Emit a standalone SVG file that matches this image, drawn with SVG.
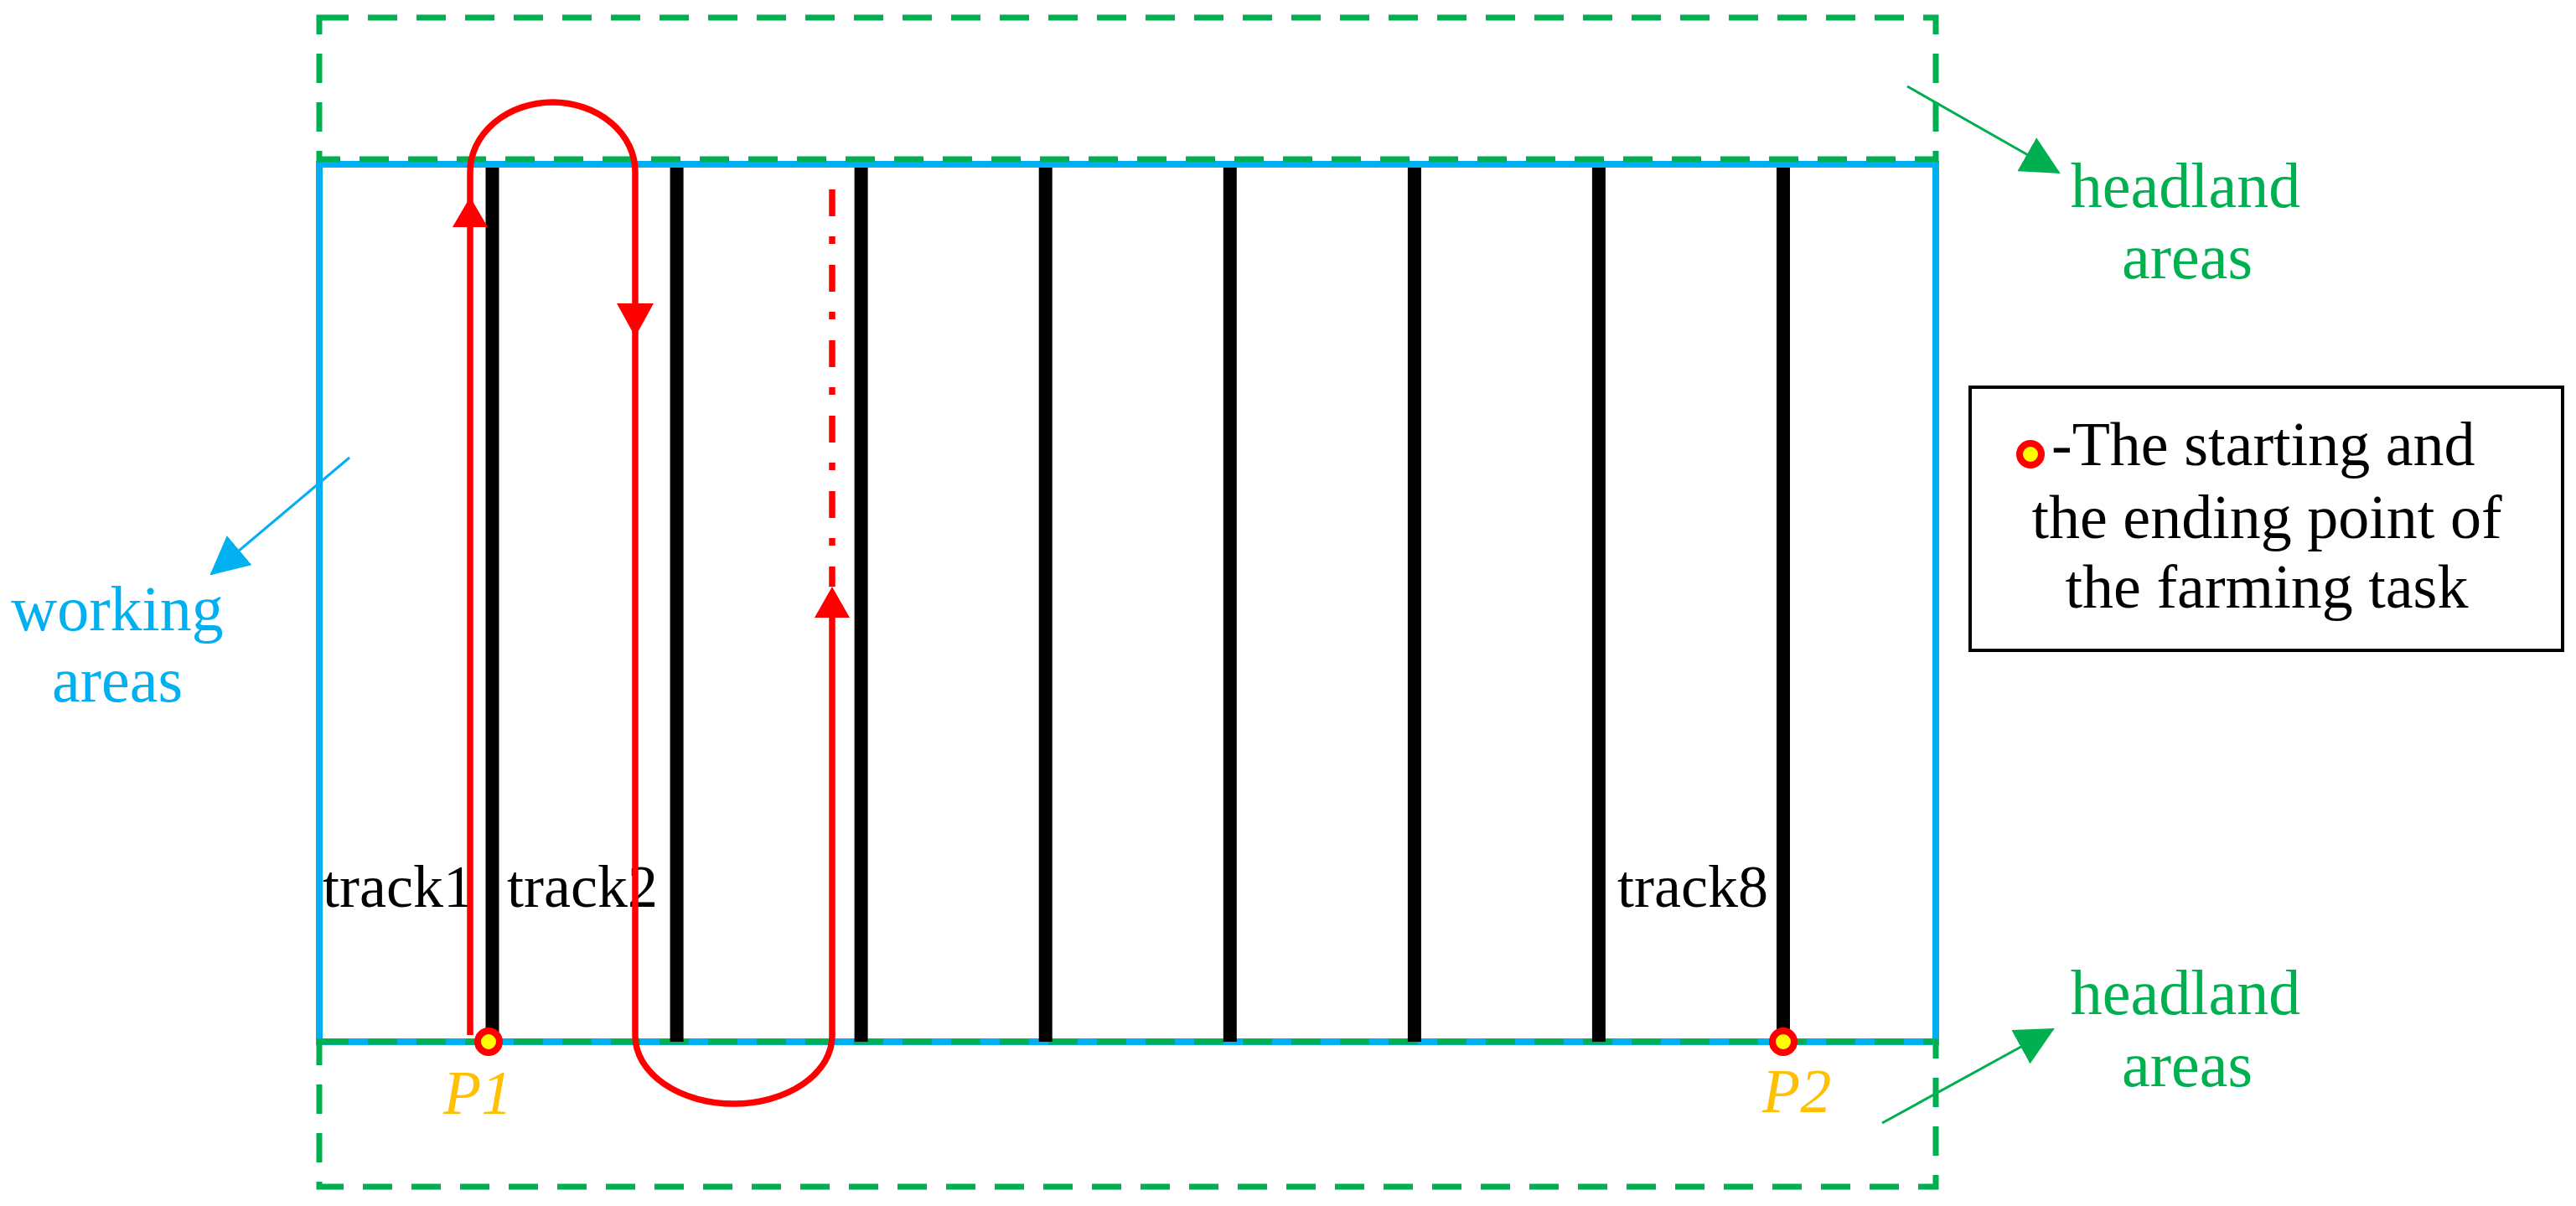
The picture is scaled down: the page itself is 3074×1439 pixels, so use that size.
<svg xmlns="http://www.w3.org/2000/svg" width="3074" height="1439" viewBox="0 0 3074 1439">
  <defs>
    <style>
      text { font-family: "Liberation Serif", "Times New Roman", serif; }
      .track { stroke: #000000; stroke-width: 16; }
      .green-dash { fill: none; stroke: #00B050; stroke-width: 7; stroke-dasharray: 35 23; }
      .blue { fill: none; stroke: #00B0F0; stroke-width: 8; }
      .red { fill: none; stroke: #FF0000; stroke-width: 7.5; }
      .redhead { fill: #FF0000; }
      .pt { fill: #FFFF00; stroke: #FF0000; stroke-width: 8; }
      .lbl { font-size: 72px; fill: #000000; }
      .plbl { font-size: 74px; font-style: italic; fill: #FFC000; }
      .greentxt { font-size: 76px; fill: #00B050; }
      .bluetxt { font-size: 76px; fill: #00B0F0; }
      .legtxt { font-size: 74px; fill: #000000; }
    </style>
    <marker id="arrG" viewBox="0 0 46 46" refX="44" refY="23" markerWidth="46" markerHeight="46" markerUnits="userSpaceOnUse" orient="auto">
      <path d="M0,0 L46,23 L0,46 Z" fill="#00B050"/>
    </marker>
    <marker id="arrB" viewBox="0 0 46 46" refX="44" refY="23" markerWidth="46" markerHeight="46" markerUnits="userSpaceOnUse" orient="auto">
      <path d="M0,0 L46,23 L0,46 Z" fill="#00B0F0"/>
    </marker>
  </defs>
  <rect width="3074" height="1439" fill="#FFFFFF"/>

  <g id="working-area">
    <rect class="blue" x="381" y="196" width="1929" height="1047"/>
  </g>

  <g id="headland-top">
    <rect class="green-dash" x="381" y="21" width="1929" height="169"/>
  </g>

  <g id="headland-bottom">
    <path class="green-dash" d="M381,1243 L2310,1243 L2310,1416 L381,1416 Z"/>
  </g>

  <g id="tracks">
    <line class="track" x1="587.5" y1="200" x2="587.5" y2="1243"/>
    <line class="track" x1="807.6" y1="200" x2="807.6" y2="1243"/>
    <line class="track" x1="1027.6" y1="200" x2="1027.6" y2="1243"/>
    <line class="track" x1="1247.7" y1="200" x2="1247.7" y2="1243"/>
    <line class="track" x1="1467.8" y1="200" x2="1467.8" y2="1243"/>
    <line class="track" x1="1687.9" y1="200" x2="1687.9" y2="1243"/>
    <line class="track" x1="1907.9" y1="200" x2="1907.9" y2="1243"/>
    <line class="track" x1="2128" y1="200" x2="2128" y2="1243"/>
  </g>

  <g id="track-labels">
    <text class="lbl" x="385" y="1082">track1</text>
    <text class="lbl" x="605" y="1082">track2</text>
    <text class="lbl" x="1930" y="1082">track8</text>
  </g>

  <g id="connectors">
    <path class="red" d="M561,1235 L561,205 A98.5,83 0 0 1 758,205 L758,1236 A117.5,81 0 0 0 993,1236 L993,730"/>
    <line class="red" x1="993" y1="226" x2="993" y2="700" stroke-dasharray="32 24 9 25"/>
    <polygon class="redhead" points="561,235 540,271 582,271"/>
    <polygon class="redhead" points="758,402 736,362 780,362"/>
    <polygon class="redhead" points="993,700 972,737 1014,737"/>
    <line x1="2276" y1="103" x2="2457" y2="206" stroke="#00B050" stroke-width="3" marker-end="url(#arrG)"/>
    <line x1="2246" y1="1340" x2="2450" y2="1228" stroke="#00B050" stroke-width="3" marker-end="url(#arrG)"/>
    <line x1="417" y1="546" x2="252" y2="685" stroke="#00B0F0" stroke-width="3" marker-end="url(#arrB)"/>
  </g>

  <g id="P1">
    <circle class="pt" cx="583" cy="1243" r="13"/>
    <text class="plbl" x="529" y="1329">P1</text>
  </g>
  <g id="P2">
    <circle class="pt" cx="2128" cy="1243" r="13"/>
    <text class="plbl" x="2103" y="1327">P2</text>
  </g>

  <g id="label-headland-top">
    <text class="greentxt" x="2608" y="247" text-anchor="middle">headland</text>
    <text class="greentxt" x="2610" y="332" text-anchor="middle">areas</text>
  </g>
  <g id="label-headland-bottom">
    <text class="greentxt" x="2608" y="1210" text-anchor="middle">headland</text>
    <text class="greentxt" x="2610" y="1296" text-anchor="middle">areas</text>
  </g>
  <g id="label-working">
    <text class="bluetxt" x="140" y="752" text-anchor="middle">working</text>
    <text class="bluetxt" x="140" y="837" text-anchor="middle">areas</text>
  </g>

  <g id="legend">
    <rect x="2351" y="462" width="707" height="314" fill="#FFFFFF" stroke="#000000" stroke-width="4"/>
    <circle class="pt" cx="2423" cy="542" r="13"/>
    <text class="legtxt" x="2448" y="555">-The starting and</text>
    <text class="legtxt" x="2705" y="642" text-anchor="middle">the ending point of</text>
    <text class="legtxt" x="2705" y="725" text-anchor="middle">the farming task</text>
  </g>
</svg>
